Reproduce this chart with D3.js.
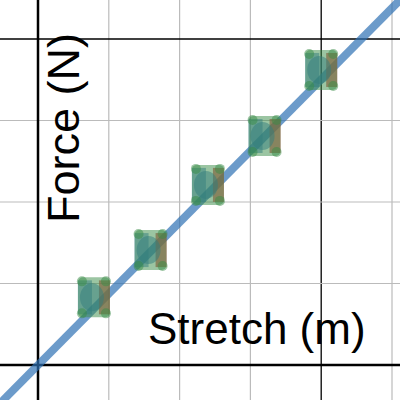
<!DOCTYPE html><html><head><meta charset="utf-8">
<script src="https://cdn.jsdelivr.net/npm/d3@7"></script>
<style>body{margin:0}svg{display:block}</style></head><body>
<script>
const stretch=[0.79,1.59,2.4,3.2,4.0];
const force=[0.83,1.41,2.21,2.81,3.62];
const slope=0.876;
const W=400,H=400;
const x=d3.scaleLinear().domain([0,1]).range([38,108.8]);
const y=d3.scaleLinear().domain([0,1]).range([365,283.5]);
const svg=d3.select("body").append("svg").attr("width",W).attr("height",H).style("background","#fff");
const xt=d3.range(-1,6),yt=d3.range(-1,6);
svg.selectAll(".gx").data(xt).join("line").attr("x1",d=>x(d)).attr("x2",d=>x(d)).attr("y1",0).attr("y2",H)
 .attr("stroke",d=>d===4?"#000":"#bbb").attr("stroke-width",d=>d===4?1.3:1.2);
svg.selectAll(".gy").data(yt).join("line").attr("y1",d=>y(d)).attr("y2",d=>y(d)).attr("x1",0).attr("x2",W)
 .attr("stroke",d=>d===4?"#000":"#bbb").attr("stroke-width",d=>d===4?1.3:1.2);
svg.append("line").attr("x1",x(0)).attr("x2",x(0)).attr("y1",0).attr("y2",H).attr("stroke","#000").attr("stroke-width",2.5);
svg.append("line").attr("y1",y(0)).attr("y2",y(0)).attr("x1",0).attr("x2",W).attr("stroke","#000").attr("stroke-width",2.5);
svg.append("line").attr("x1",x(-0.6)).attr("y1",y(-0.6*slope)).attr("x2",x(5.3)).attr("y2",y(5.3*slope))
 .attr("stroke","#2d70b3").attr("stroke-opacity",0.7).attr("stroke-width",8);
const g=svg.selectAll(".m").data(stretch).join("g").attr("transform",(d,i)=>`translate(${x(d)},${y(force[i])})`);
g.append("rect").attr("x",-16).attr("y",-17).attr("width",14).attr("height",34).attr("fill","#2d70b3").attr("opacity",0.5);
g.append("rect").attr("x",5).attr("y",-17).attr("width",11).attr("height",34).attr("fill","#c74440").attr("opacity",0.7);
g.append("ellipse").attr("cx",-2).attr("cy",0).attr("rx",12).attr("ry",14).attr("fill","#2d70b3").attr("opacity",0.5);
g.append("rect").attr("x",-16).attr("y",-20).attr("width",32).attr("height",40).attr("rx",5).attr("fill","#388c46").attr("opacity",0.5);
g.selectAll("circle").data([[-12,-16],[12,-16],[-12,16],[12,16]]).join("circle").attr("cx",d=>d[0]).attr("cy",d=>d[1]).attr("r",5).attr("fill","#388c46").attr("opacity",0.5);
svg.append("text").attr("transform","translate(79,128) rotate(-90)").attr("text-anchor","middle")
 .attr("font-family","Liberation Sans, Arial").attr("font-size",45).text("Force (N)");
svg.append("text").attr("x",148).attr("y",344).attr("font-family","Liberation Sans, Arial").attr("font-size",44).text("Stretch (m)");
</script></body></html>
